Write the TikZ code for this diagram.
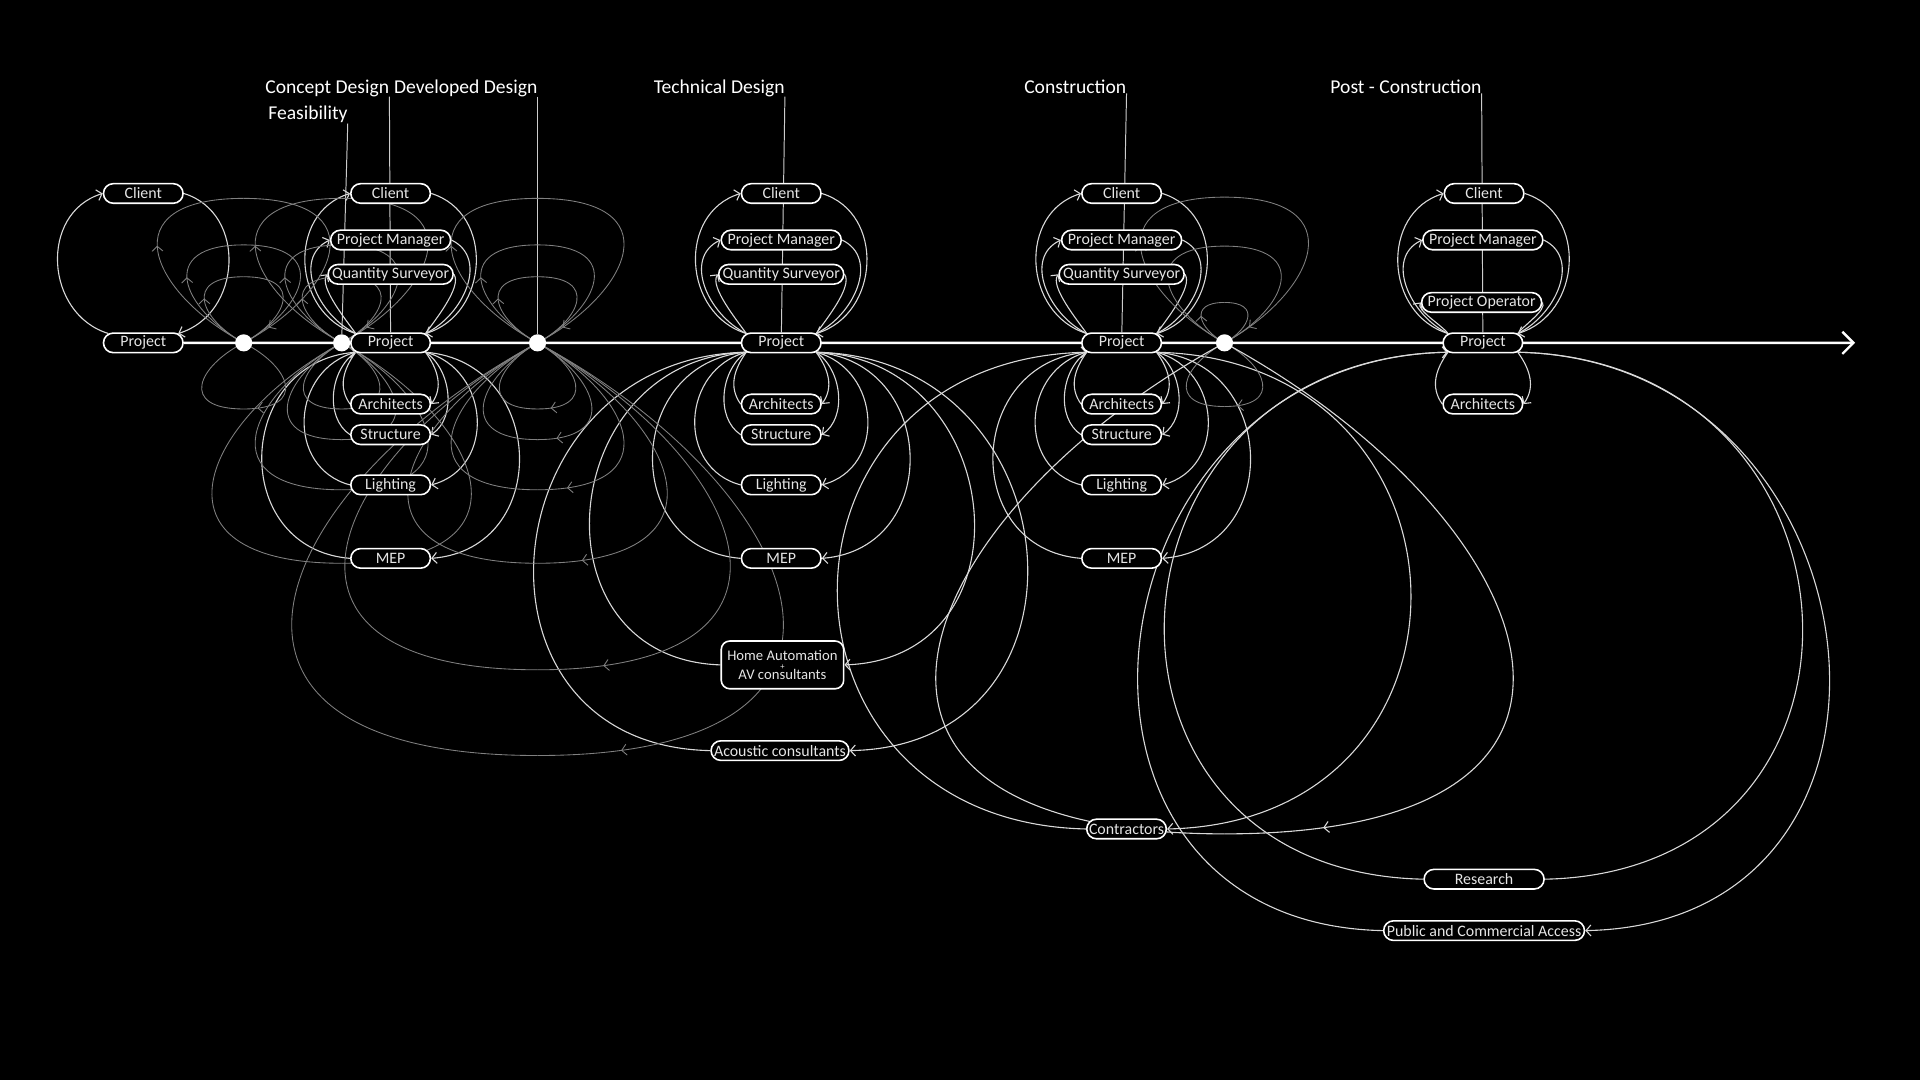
\documentclass[tikz,border=0pt]{standalone}
\usepackage{fontspec}
\setmainfont{Carlito}
\usetikzlibrary{arrows.meta,shapes.misc,decorations.markings}
\pgfdeclarelayer{bg}
\pgfdeclarelayer{links}
\pgfsetlayers{bg,links,main}
\tikzset{
  box/.style={rounded rectangle, draw=white, line width=1.3pt, fill=black,
    text=white!90!black, minimum height=16pt, minimum width=67pt, inner sep=1pt,
    font=\fontsize{13}{14}\selectfont},
  wide/.style={minimum width=100pt},
  blockbox/.style={rectangle, rounded corners=7pt, draw=white, line width=1.3pt, fill=black,
    text=white!90!black, minimum width=100pt, minimum height=39pt, inner sep=1pt,
    align=center, font=\fontsize{12}{13}\selectfont},
  phase label/.style={text=white, inner sep=0pt, anchor=base east, font=\fontsize{16}{18}\selectfont},
  milestone/.style={circle, fill=white, inner sep=0pt, minimum size=14pt},
  wire/.style={draw=white!85!black, line width=0.9pt},
  ghost/.style={draw=white!50!black, line width=0.7pt},
  phase/.style={draw=white!80!black, line width=0.8pt},
  timeline/.style={draw=white, line width=2.2pt, -{Straight Barb[length=9pt,width=18pt,line width=2pt]}},
  gup/.style={postaction={decorate,decoration={markings,mark=at position 0.55 with {\arrow{>}}}}},
  gdown/.style={postaction={decorate,decoration={markings,mark=at position 0.88 with {\arrow{>}}}}},
  gback/.style={postaction={decorate,decoration={markings,mark=at position 0.12 with {\arrowreversed{>}}}}},
  gnone/.style={},
}
\begin{document}
\begin{tikzpicture}[x=1pt,y=-1pt,>={Straight Barb[length=4pt,width=9pt]},line cap=round,line join=round]
\useasboundingbox (0,0) rectangle (1568,882);
\begin{pgfonlayer}{bg}
  \fill[black] (0,0) rectangle (1568,882);
\end{pgfonlayer}

% stage labels
\node[phase label] (lcon) at (318,76) {Concept Design};
\node[phase label] (ldev) at (439,76) {Developed Design};
\node[phase label] (lfea) at (284,98) {Feasibility};
\node[phase label] (ltec) at (641,76) {Technical Design};
\node[phase label] (lcst) at (920,76) {Construction};
\node[phase label] (lpst) at (1210,76) {Post - Construction};

% milestones on the time line
\node[milestone] (d0) at (199,280) {};
\node[milestone] (d1) at (279,280) {};
\node[milestone] (d2) at (439,280) {};
\node[milestone] (d3) at (1000,280) {};
\coordinate (tend) at (1515,280);

% first column
\node[box] (c0-cli) at (117,158) {Client};
\node[box] (c0-pro) at (117,280) {Project};

% design and construction columns
\foreach \k/\x in {1/319,2/638,3/916}{
  \node[box] (c\k-cli) at (\x,158) {Client};
  \node[box,wide] (c\k-pm) at (\x,196) {Project Manager};
  \node[box,wide] (c\k-qs) at (\x,224) {Quantity Surveyor};
  \node[box] (c\k-pro) at (\x,280) {Project};
  \node[box] (c\k-arc) at (\x,330) {Architects};
  \node[box] (c\k-str) at (\x,355) {Structure};
  \node[box] (c\k-lig) at (\x,396) {Lighting};
  \node[box] (c\k-mep) at (\x,456) {MEP};
}
\node[blockbox] (c2-ha) at (639,543) {Home Automation\\[-6pt]{\fontsize{7}{7}\selectfont +}\\[-5pt]AV consultants};
\node[box,minimum width=110pt] (c2-aco) at (637,613) {Acoustic consultants};
\node[box] (c3-con) at (920,677) {Contractors};

% post construction column
\node[box] (c4-cli) at (1212,158) {Client};
\node[box,wide] (c4-pm) at (1211,196) {Project Manager};
\node[box,wide] (c4-po) at (1210,247) {Project Operator};
\node[box] (c4-pro) at (1211,280) {Project};
\node[box] (c4-arc) at (1211,330) {Architects};
\node[box,wide] (c4-res) at (1212,718) {Research};
\node[box,minimum width=166pt] (c4-pub) at (1212,760) {Public and Commercial Access};

\begin{pgfonlayer}{links}
% stage lines
\draw[phase] (lcon.south east) -- (c1-pro);
\draw[phase] (ldev.south east) -- (d2);
\draw[phase] (lfea.south east) -- (d1);
\draw[phase] (ltec.south east) -- (c2-pro);
\draw[phase] (lcst.south east) -- (c3-pro);
\draw[phase] (lpst.south east) -- (c4-pro);
\draw[timeline] (c0-pro) -- (tend);

% loops above the line
\draw[wire,->] (c0-pro.165) .. controls +(-52,-16) and +(-52,16) .. (c0-cli.west);
\draw[wire,->] (c0-cli.east) .. controls +(52,16) and +(52,-16) .. (c0-pro.15);
\foreach \k in {1,2,3}{
  \foreach \m/\cx/\h/\al/\ar in {cli/52/16/->/->, pm/31/15/->/-, qs/7/10/->/-}{
    \draw[wire,\al] (c\k-pro.165) .. controls +(-\cx,-\h) and +(-\cx,\h) .. (c\k-\m.west);
    \draw[wire,\ar] (c\k-\m.east) .. controls +(\cx,\h) and +(\cx,-\h) .. (c\k-pro.15);
  }
}
\foreach \m/\cx/\h/\al/\ar in {cli/52/16/->/->, pm/31/15/->/-, po/4/6/->/-}{
  \draw[wire,\al] (c4-pro.165) .. controls +(-\cx,-\h) and +(-\cx,\h) .. (c4-\m.west);
  \draw[wire,\ar] (c4-\m.east) .. controls +(\cx,\h) and +(\cx,-\h) .. (c4-pro.15);
}

% loops below the line
\foreach \k in {1,2,3}{
  \foreach \m/\cx/\h in {arc/10/14, str/21/14, lig/53/14}{
    \draw[wire] (c\k-pro.195) .. controls +(-\cx,\h) and +(-\cx,-\h) .. (c\k-\m.west);
    \draw[wire,->] (c\k-pro.345) .. controls +(\cx,\h) and +(\cx,-\h) .. (c\k-\m.east);
  }
}
\foreach \k/\m/\cx/\h/\al/\ar in {1/mep/99/8/<-/->, 2/mep/99/8/-/->, 3/mep/99/8/-/->,
    2/ha/156/5/-/->, 2/aco/211/4/-/->, 3/con/271/6/<-/->,
    4/arc/10/14/-/->, 4/res/295/6/<-/-, 4/pub/300/6/<-/->}{
  \draw[wire,\al] (c\k-pro.195) .. controls +(-\cx,\h) and +(-\cx,-\h) .. (c\k-\m.west);
  \draw[wire,\ar] (c\k-pro.345) .. controls +(\cx,\h) and +(\cx,-\h) .. (c\k-\m.east);
}

% faint loops at the milestones
\foreach \dn/\gy/\gw/\ml/\mr in {
    d0/162/70/gup/gback, d0/200/46/gup/gnone, d0/226/32/gup/gnone, d0/334/34/gnone/gdown,
    d1/162/70/gup/gback, d1/200/46/gup/gnone, d1/226/32/gup/gnone,
    d1/334/31/gnone/gdown, d1/359/44/gnone/gdown, d1/400/70/gnone/gdown, d1/460/105/gnone/gdown,
    d2/162/70/gup/gback, d2/200/46/gup/gnone, d2/226/32/gup/gnone,
    d2/334/31/gnone/gdown, d2/359/44/gnone/gdown, d2/400/70/gnone/gdown, d2/460/105/gnone/gdown,
    d2/547/156/gnone/gdown, d2/617/199/gnone/gdown,
    d3/161/68/gup/gback, d3/201/46/gup/gnone, d3/247/19/gup/gnone, d3/332/31/gnone/gdown}{
  \path (\dn.center) ++(0,{\gy-280}) coordinate (gend);
  \draw[ghost,\ml] (\dn.center) .. controls +({-1.1*\gw},{0.35*(\gy-280)}) and +({-1.57*\gw},0) .. (gend);
  \draw[ghost,\mr] (\dn.center) .. controls +({1.1*\gw},{0.35*(\gy-280)}) and +({1.57*\gw},0) .. (gend);
}
\path (d3.center) ++(0,401) coordinate (gcon);
\draw[wire] (d3.center) .. controls +(-257,140) and +(-367,0) .. (gcon);
\draw[wire,gdown] (d3.center) .. controls +(257,140) and +(367,0) .. (gcon);
\end{pgfonlayer}
\end{tikzpicture}
\end{document}
